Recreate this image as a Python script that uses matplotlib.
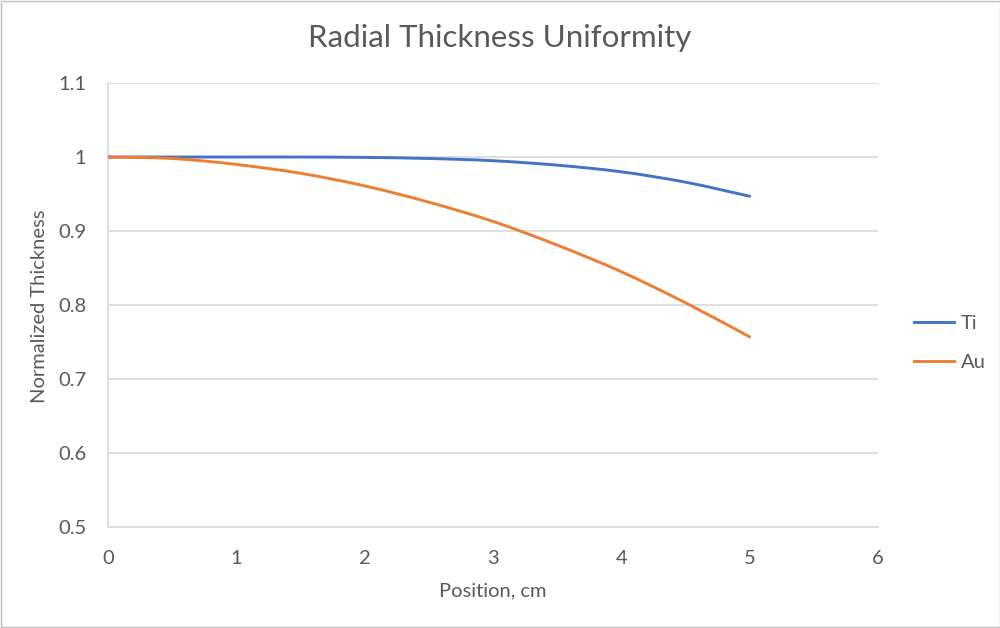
import matplotlib
matplotlib.use("Agg")
import matplotlib.pyplot as plt
from matplotlib.patches import Rectangle, PathPatch
from matplotlib.path import Path
from matplotlib.lines import Line2D

position = [0.0, 0.5, 1.0, 1.5, 2.0, 2.5, 3.0, 3.5, 4.0, 4.5, 5.0]
ti = [1.000, 1.000, 1.000, 1.000, 0.9995, 0.998, 0.995, 0.989, 0.980, 0.966, 0.947]
au = [1.000, 0.998, 0.990, 0.978, 0.961, 0.939, 0.913, 0.881, 0.845, 0.803, 0.757]
series_names = ["Ti", "Au"]
colors = ["#4472C4", "#ED7D31"]
title = "Radial Thickness Uniformity"
xlabel = "Position, cm"
ylabel = "Normalized Thickness"
xticks = [0, 1, 2, 3, 4, 5, 6]
yticks = [0.5, 0.6, 0.7, 0.8, 0.9, 1.0, 1.1]
ytick_labels = ["0.5", "0.6", "0.7", "0.8", "0.9", "1", "1.1"]

plt.rcParams['font.family'] = ['Lato', 'DejaVu Sans']
txt = "#595959"
grid = "#D9D9D9"

fig = plt.figure(figsize=(10, 6.28), dpi=100)
ax = fig.add_axes([0.108, 0.1608, 0.770, 0.707])


def smooth_path(xs, ys):
    # Excel-style smoothed line: cubic Bezier segments through the data points
    pts = list(zip(xs, ys))
    n = len(pts)
    verts = [pts[0]]
    codes = [Path.MOVETO]
    for i in range(n - 1):
        p0 = pts[i - 1] if i > 0 else pts[i]
        p1 = pts[i]
        p2 = pts[i + 1]
        p3 = pts[i + 2] if i + 2 < n else pts[i + 1]
        c1 = (p1[0] + (p2[0] - p0[0]) / 6, p1[1] + (p2[1] - p0[1]) / 6)
        c2 = (p2[0] - (p3[0] - p1[0]) / 6, p2[1] - (p3[1] - p1[1]) / 6)
        verts += [c1, c2, p2]
        codes += [Path.CURVE4] * 3
    return Path(verts, codes)


handles = []
for vals, name, c in zip([ti, au], series_names, colors):
    ax.add_patch(PathPatch(smooth_path(position, vals), facecolor='none',
                           edgecolor=c, lw=2.1, capstyle='round', zorder=3))
    handles.append(Line2D([], [], color=c, lw=2.1, label=name))

ax.set_xlim(0, 6)
ax.set_ylim(0.5, 1.1)
ax.set_xticks(xticks)
ax.set_xticklabels([str(t) for t in xticks])
ax.set_yticks(yticks)
ax.set_yticklabels(ytick_labels)
ax.tick_params(length=0, labelsize=14.5, colors=txt)
ax.tick_params(axis='x', pad=16.5)
ax.tick_params(axis='y', pad=15.5)
ax.grid(axis='y', color=grid, lw=1.2)
ax.set_axisbelow(True)
for s in ['top', 'right']:
    ax.spines[s].set_visible(False)
for s in ['left', 'bottom']:
    ax.spines[s].set_color(grid)
    ax.spines[s].set_linewidth(1.2)

fig.text(0.493, 1 - 591 / 628, xlabel, ha='center', va='center', fontsize=14.5, color=txt)
fig.text(0.040, 1 - 306 / 628, ylabel, ha='center', va='center', fontsize=14.5,
         color=txt, rotation=90)
fig.text(0.5, 1 - 38 / 628, title, ha='center', va='center', fontsize=22.5, color=txt)

leg = fig.legend(handles=handles, loc='center left', bbox_to_anchor=(0.896, 1 - 343 / 628),
                 frameon=False, fontsize=14.5, labelcolor=txt, handlelength=2.0,
                 labelspacing=1.05, handletextpad=0.3)

fig.patches.append(Rectangle((0.0005, 0.0008), 0.999, 0.9984, transform=fig.transFigure,
                             fill=False, edgecolor="#BFBFBF", lw=1))

fig.savefig("out.png", dpi=100, facecolor="white")
